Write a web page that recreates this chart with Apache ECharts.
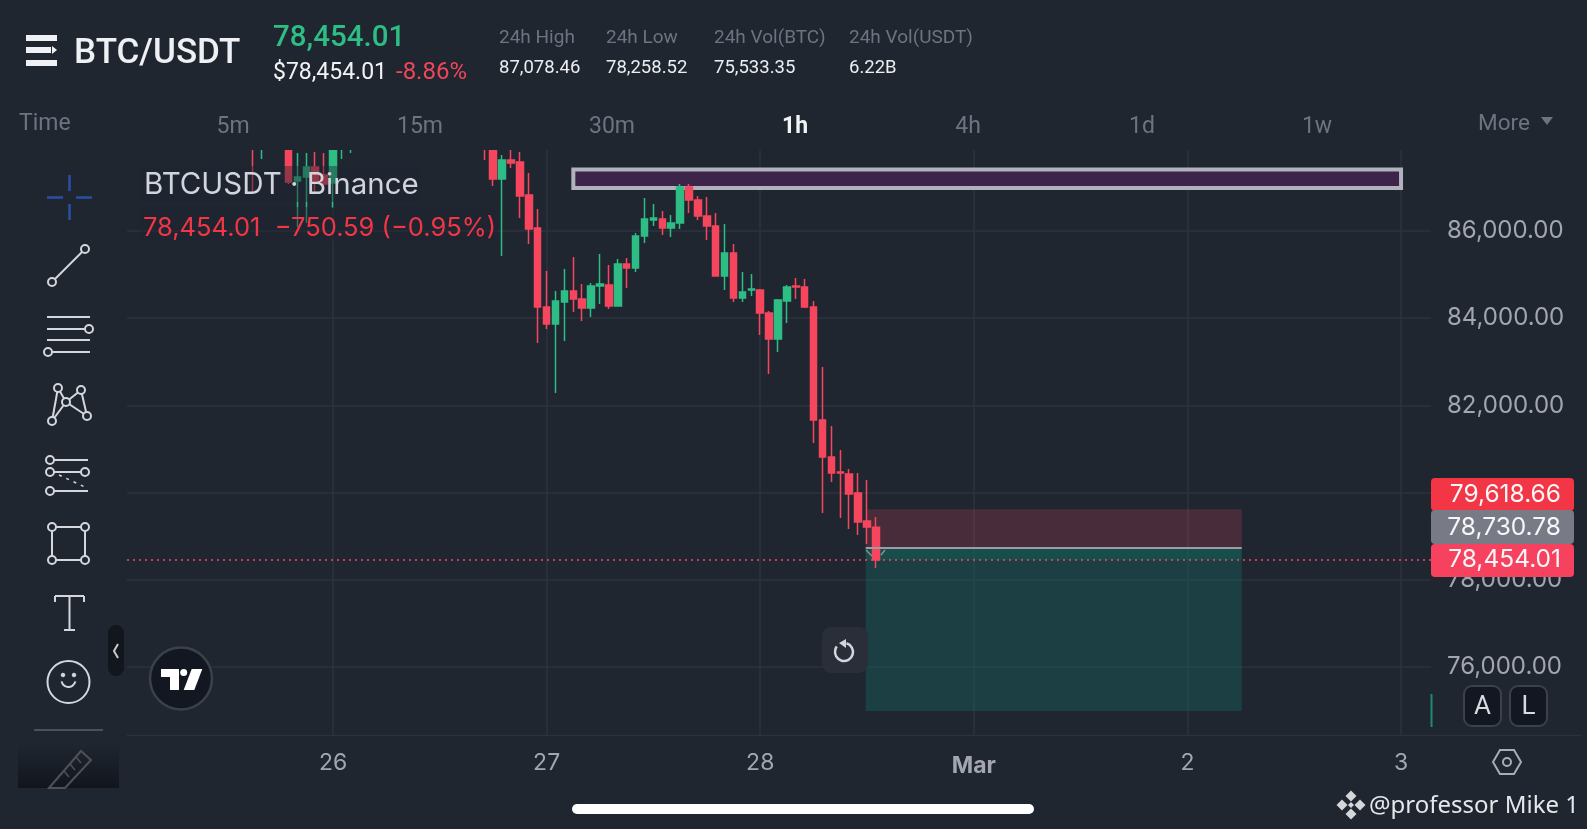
<!DOCTYPE html>
<html>
<head>
<meta charset="utf-8">
<title>BTC/USDT</title>
<script src="https://cdn.jsdelivr.net/npm/echarts@6/dist/echarts.min.js"></script>
<style>
html, body { margin: 0; padding: 0; background: #1f2630; overflow: hidden; }
#chart { width: 1587px; height: 829px; }
</style>
</head>
<body>
<div id="chart"></div>
<script>
// 1h candles (some bodies sit above the visible top)
var candleTimes = [
    '2025-02-25 15:00','2025-02-25 16:00','2025-02-25 19:00','2025-02-25 20:00','2025-02-25 21:00','2025-02-25 22:00','2025-02-25 23:00',
    '2025-02-26 00:00','2025-02-26 01:00','2025-02-26 02:00','2025-02-26 17:00','2025-02-26 18:00','2025-02-26 19:00','2025-02-26 20:00',
    '2025-02-26 21:00','2025-02-26 22:00','2025-02-26 23:00',
    '2025-02-27 00:00','2025-02-27 01:00','2025-02-27 02:00','2025-02-27 03:00','2025-02-27 04:00','2025-02-27 05:00','2025-02-27 06:00','2025-02-27 07:00',
    '2025-02-27 08:00','2025-02-27 09:00','2025-02-27 10:00','2025-02-27 11:00','2025-02-27 12:00','2025-02-27 13:00','2025-02-27 14:00','2025-02-27 15:00',
    '2025-02-27 16:00','2025-02-27 17:00','2025-02-27 18:00','2025-02-27 19:00','2025-02-27 20:00','2025-02-27 21:00','2025-02-27 22:00','2025-02-27 23:00',
    '2025-02-28 00:00','2025-02-28 01:00','2025-02-28 02:00','2025-02-28 03:00','2025-02-28 04:00','2025-02-28 05:00','2025-02-28 06:00','2025-02-28 07:00',
    '2025-02-28 08:00','2025-02-28 09:00','2025-02-28 10:00','2025-02-28 11:00','2025-02-28 12:00','2025-02-28 13:00'
];
var opens = [
    88300,88000,88000,87147,87239,87468,87284,
    87101,88000,88000,88200,88000,87193,87628,
    87583,86826,86069,
    84257,83867,84372,84624,84440,84234,84739,84761,
    84280,85243,85151,85885,86252,86275,86069,86183,
    87009,86711,86344,86115,84968,85495,84463,84647,
    84647,84119,83523,84394,84739,84716,84257,81665,
    80817,80472,80426,79991,79349,79205
];
var closes = [
    88000,88200,87124,87239,87468,87101,87078,
    88000,88150,88200,88000,87193,87628,87560,
    86803,86046,84257,
    83867,84394,84624,84440,84234,84739,84784,84280,
    85243,85151,85885,86275,86298,86069,86183,87009,
    86711,86344,86115,84968,85495,84463,84601,84670,
    84119,83523,84417,84716,84716,84257,81665,80817,
    80449,80449,79968,79326,79211,78454.01
];
var lows = [
    86894,87651,87078,86092,86183,86900,87000,
    86528,87651,87789,87628,87032,85427,87445,
    86298,85702,83431,
    83752,82284,83477,84142,83936,84028,84326,84211,
    84270,84693,85060,85725,86115,85908,85862,86046,
    86413,86252,85794,84968,84647,84372,84372,84509,
    83615,82720,83225,83890,84440,84234,81138,79532,
    80243,79417,79165,79027,78821,78271
];
var highs = [
    88400,88300,88100,87789,87789,87812,87789,
    88100,88250,88300,88300,88100,87743,87858,
    87812,87330,86505,
    85083,84624,85128,85404,84784,84807,85472,85220,
    85358,85381,85954,86757,86619,86459,86367,87078,
    87078,86803,86780,86413,86161,85702,85060,85014,
    84670,84165,84440,84761,84922,84899,84394,82881,
    81527,80977,80541,80449,80289,79440
];

var priceTicks = [76000, 78000, 80000, 82000, 84000, 86000];
var dayTicks = ['2025-02-26 00:00','2025-02-27 00:00','2025-02-28 00:00','2025-03-01 00:00','2025-03-02 00:00','2025-03-03 00:00'];
var dayLabels = ['26','27','28','Mar','2','3'];

var lastPrice = 78454.01;
var stopPrice = 79618.66;
var entryPrice = 78730.78;
var targetPrice = 74990;
var zoneTop = 87411;
var zoneBottom = 86986;

var bg = '#1f2630';
var upColor = '#2ebd85';
var downColor = '#f6465d';
var gridColor = '#2c333e';
var iconColor = '#d4d6dc';
var font = 'Roboto';

function ms(s) {
    return +echarts.time.parse(s);
}
var dayMs = dayTicks.map(ms);

function txt(x, y, text, size, color, weight, align, family) {
    return { type: 'text', z: 100, silent: true, style: {
        x: x, y: y, text: text, fill: color, align: align || 'left', verticalAlign: 'middle',
        font: (weight || 'normal') + ' ' + size + 'px ' + (family || font)
    }};
}
function ln(x1, y1, x2, y2, color, w, dash) {
    return { type: 'line', z: 100, silent: true, shape: { x1: x1, y1: y1, x2: x2, y2: y2 },
        style: { stroke: color || iconColor, lineWidth: w || 2, lineDash: dash } };
}
function dot(x, y, r, stroke, fill, w) {
    return { type: 'circle', z: 101, silent: true, shape: { cx: x, cy: y, r: r },
        style: { stroke: stroke === undefined ? iconColor : stroke, fill: fill === undefined ? bg : fill, lineWidth: w || 2 } };
}
function box(x, y, w, h, fill, r, stroke, sw) {
    return { type: 'rect', z: 99, silent: true, shape: { x: x, y: y, width: w, height: h, r: r || 0 },
        style: { fill: fill, stroke: stroke, lineWidth: sw || 0 } };
}
function poly(points, fill, stroke, w) {
    return { type: 'polygon', z: 100, silent: true, shape: { points: points },
        style: { fill: fill, stroke: stroke, lineWidth: w || 0 } };
}

var ui = [];
// K线不会被网格裁剪，上面盖一条
var cover = box(127, 100, 1304, 50, bg);
cover.z = 98;
ui.push(cover);
// 图例下面的遮罩
ui.push(box(140, 166, 282, 36, 'rgba(31,38,48,0.45)'));
ui.push(box(140, 207, 358, 34, 'rgba(31,38,48,0.45)'));

// header
ui.push(box(26, 35, 31, 6, '#f0f1f4'), box(26, 47, 25, 6, '#f0f1f4'), box(26, 60, 31, 6, '#f0f1f4'));
ui.push(poly([[52, 46], [57, 50], [52, 54]], '#f0f1f4'));
ui.push(txt(74, 54, 'BTC/USDT', 35, '#eef0f3', '500'));
ui.push(txt(273, 39, '78,454.01', 29.5, upColor, '500'));
ui.push(txt(273, 73, '$78,454.01', 23, '#f2f3f5'));
ui.push(txt(396, 73, '-8.86%', 24, '#f0465a'));
var statX = [499, 606, 714, 849];
var statNames = ['24h High', '24h Low', '24h Vol(BTC)', '24h Vol(USDT)'];
var statValues = ['87,078.46', '78,258.52', '75,533.35', '6.22B'];
statX.forEach(function (x, i) {
    ui.push(txt(x, 38, statNames[i], 19, '#6d7380'));
    ui.push(txt(x, 68, statValues[i], 18.5, '#eceef1'));
});

// 周期
ui.push(txt(19, 124, 'Time', 23, '#6d7380'));
var tfX = [233, 420, 612, 795, 968, 1142, 1317];
var tfNames = ['5m', '15m', '30m', '1h', '4h', '1d', '1w'];
tfNames.forEach(function (t, i) {
    var on = t === '1h';
    ui.push(txt(tfX[i], 127, t, 23, on ? '#f2f3f5' : '#6d7380', on ? 'bold' : 'normal', 'center'));
});
ui.push(txt(1478, 124, 'More', 22.5, '#6d7380'));
ui.push(poly([[1541, 117], [1553, 117], [1547, 125]], '#6d7380'));

// legend on the chart
ui.push(txt(144, 185, 'BTCUSDT · Binance', 29.5, '#d1d4dc', 'normal', 'left', 'Inter'));
ui.push(txt(143, 228, '78,454.01  \u2212750.59 (\u22120.95%)', 25.5, '#f23645', 'normal', 'left', 'Inter'));

// 左侧工具栏
ui.push(ln(69.5, 175, 69.5, 191, '#2a4fa8', 2.5), ln(69.5, 204, 69.5, 220, '#2a4fa8', 2.5));
ui.push(ln(47, 197.5, 63, 197.5, '#2a4fa8', 2.5), ln(76, 197.5, 92, 197.5, '#2a4fa8', 2.5));
ui.push(ln(52, 282, 85, 249), dot(52, 282, 4), dot(85, 249, 4));
ui.push(ln(47, 317, 90, 317), ln(47, 329, 88, 329), ln(47, 340, 90, 340), ln(50, 352, 90, 352), dot(89, 329, 4), dot(48, 352, 4));
ui.push(ln(58, 388, 52, 421), ln(52, 421, 66, 402), ln(58, 388, 66, 402), ln(66, 402, 81, 390), ln(66, 402, 87, 416), ln(81, 390, 87, 416));
ui.push(dot(58, 388, 4), dot(81, 390, 4), dot(66, 402, 4), dot(52, 421, 4), dot(87, 416, 4));
ui.push(ln(52, 460, 88, 460), ln(52, 472, 85, 472), ln(52, 491, 88, 491), ln(59, 475, 85, 487, iconColor, 1.5, [3, 5]));
ui.push(dot(50, 460, 4), dot(50, 472, 4), dot(85, 472, 4), dot(50, 491, 4));
ui.push(box(52, 527, 33, 33, 'none', 0, iconColor, 2), dot(52, 527, 4), dot(85, 527, 4), dot(52, 560, 4), dot(85, 560, 4));
ui.push(ln(55, 596, 84, 596), ln(55, 596, 55, 602), ln(84, 596, 84, 602), ln(69.5, 596, 69.5, 630), ln(64, 630, 75, 630));
ui.push(dot(68.5, 682, 21, iconColor, 'none', 2), dot(63, 675, 1.8, iconColor, iconColor, 1), dot(74, 675, 1.8, iconColor, iconColor, 1));
ui.push({ type: 'arc', z: 100, silent: true, shape: { cx: 68.5, cy: 680, r: 7, startAngle: 0.2, endAngle: Math.PI - 0.2 }, style: { stroke: iconColor, fill: 'none', lineWidth: 2 } });
ui.push(ln(34, 730, 103, 730, '#4b505b', 2));
ui.push({ type: 'rect', z: 99, silent: true, shape: { x: 18, y: 744, width: 101, height: 44 }, style: { fill: new echarts.graphic.LinearGradient(0, 0, 0, 1, [{ offset: 0, color: '#1f2630' }, { offset: 1, color: '#12151c' }]) } });
ui.push(poly([[49, 788], [81, 751], [91, 760], [65, 788]], 'none', '#4d515a', 2));
ui.push(ln(76, 757, 81, 763, '#4d515a', 1.5), ln(70, 764, 75, 770, '#4d515a', 1.5), ln(64, 771, 69, 777, '#4d515a', 1.5));
ui.push(box(108, 625, 16, 51, '#12161d', 8));
ui.push({ type: 'polyline', z: 100, silent: true, shape: { points: [[118, 644], [114, 651], [118, 658]] }, style: { stroke: '#c8cad0', fill: 'none', lineWidth: 2 } });

// TradingView badge
var badge = dot(181, 678.5, 31, '#3b404b', '#131722', 2.5);
badge.z = 99;
ui.push(badge);
ui.push(poly([[161, 669], [179, 669], [179, 690], [170, 690], [170, 677], [161, 677]], '#ffffff'));
ui.push(dot(183.7, 672.5, 3.5, 'none', '#ffffff', 0));
ui.push(poly([[191.7, 669], [202.3, 669], [194.3, 690], [183.7, 690]], '#ffffff'));

// reset button
ui.push(box(822, 627, 46, 46, '#2a2e39', 9));
ui.push({ type: 'arc', z: 100, silent: true, shape: { cx: 844, cy: 652, r: 9, startAngle: -1.3, endAngle: -2.5, clockwise: true }, style: { stroke: iconColor, fill: 'none', lineWidth: 2.5 } });
ui.push(poly([[846, 639], [846, 648], [839, 643]], iconColor));

// 入场标记
ui.push(ln(866, 550, 872, 556, '#8a8d96', 1.5), ln(885, 550, 881, 555, '#8a8d96', 1.5));

// price tags
ui.push(box(1431, 478, 143, 33, '#f23645', 4));
ui.push(box(1431, 510, 143, 34, '#787b86', 4));
ui.push(box(1431, 544, 143, 33, '#f7425f', 4));
ui.push(txt(1561, 495, '79,618.66', 24.5, '#f7f7f9', 'normal', 'right', 'Inter'));
ui.push(txt(1561, 527.5, '78,730.78', 24.5, '#f7f7f9', 'normal', 'right', 'Inter'));
ui.push(txt(1561, 560, '78,454.01', 24.5, '#f7f7f9', 'normal', 'right', 'Inter'));

// A / L
ui.push(ln(1431.5, 694, 1431.5, 727, '#1f8a70', 2));
ui.push(box(1464, 686, 37, 40, '#131722', 8, '#3b404b', 2), box(1510, 686, 37, 40, '#131722', 8, '#3b404b', 2));
ui.push(txt(1482.5, 707, 'A', 26, '#d8dae0', 'normal', 'center'), txt(1528.5, 707, 'L', 26, '#d8dae0', 'normal', 'center'));

// 底部
ui.push(ln(127, 735.5, 1581, 735.5, gridColor, 1.5));
ui.push(poly([[1493, 762], [1500, 750], [1514, 750], [1521, 762], [1514, 774], [1500, 774]], 'none', '#a9acb6', 2));
ui.push(dot(1507, 762, 4, '#a9acb6', 'none', 2));
ui.push(box(572, 804, 462, 10, '#ffffff', 5));
[[1351, 796], [1342, 805], [1360, 805], [1351, 814]].forEach(function (p) {
    ui.push(poly([[p[0], p[1] - 5.5], [p[0] + 5.5, p[1]], [p[0], p[1] + 5.5], [p[0] - 5.5, p[1]]], '#d5d6da'));
});
ui.push(poly([[1351, 802], [1354, 805], [1351, 808], [1348, 805]], '#d5d6da'));
ui.push(txt(1369, 806, '@professor Mike 1', 24, '#e6e7ea', 'normal', 'left', 'Noto Sans'));

var boxLeft = ms('2025-02-28 11:51');
var boxRight = ms('2025-03-02 06:06');

var chart = echarts.init(document.getElementById('chart'));
var option = {
    animation: false,
    backgroundColor: bg,
    grid: { left: 127, top: 150, width: 1304, height: 585 },
    xAxis: {
        type: 'value',
        min: ms('2025-02-25 00:51'),
        max: ms('2025-03-03 03:22'),
        axisLine: { show: false },
        axisTick: { show: false, customValues: dayMs },
        splitLine: { show: true, lineStyle: { color: gridColor, width: 1.5 } },
        axisLabel: {
            customValues: dayMs,
            margin: 17,
            hideOverlap: false,
            color: '#a3a6b0',
            fontFamily: 'Inter',
            fontSize: 23,
            formatter: function (v) {
                var k = dayMs.indexOf(+v);
                return k === 3 ? '{b|' + dayLabels[k] + '}' : dayLabels[k];
            },
            rich: { b: { fontWeight: 'bold', fontSize: 23, fontFamily: 'Inter', color: '#a3a6b0', padding: [3, 0, 0, 0] } }
        }
    },
    yAxis: {
        type: 'value',
        position: 'right',
        scale: true,
        min: 74440,
        max: 87858,
        axisLine: { show: false },
        axisTick: { show: false, customValues: priceTicks },
        splitLine: { show: true, lineStyle: { color: gridColor, width: 1.5 } },
        axisLabel: {
            customValues: priceTicks,
            margin: 16,
            color: '#a3a6b0',
            fontFamily: 'Inter',
            fontSize: 24,
            formatter: function (v) {
                return v.toLocaleString('en-US', { minimumFractionDigits: 2 });
            }
        }
    },
    series: [{
        type: 'candlestick',
        barWidth: 7,
        encode: { x: 0, y: [1, 2, 3, 4] },
        itemStyle: { color: upColor, color0: downColor, borderColor: upColor, borderColor0: downColor, borderWidth: 1.5 },
        data: candleTimes.map(function (t, i) {
            return [ms(t), opens[i], closes[i], lows[i], highs[i]];
        }),
        markArea: {
            silent: true,
            data: [
                [{ coord: [ms('2025-02-27 03:00'), zoneTop], itemStyle: { color: '#3c2549', borderColor: '#b2b2bd', borderWidth: 4 } }, { coord: [ms('2025-03-03 00:00'), zoneBottom] }],
                [{ coord: [boxLeft, stopPrice], itemStyle: { color: 'rgba(246,70,93,0.2)' } }, { coord: [boxRight, entryPrice] }],
                [{ coord: [boxLeft, entryPrice], itemStyle: { color: 'rgba(20,115,105,0.33)' } }, { coord: [boxRight, targetPrice] }],
                [{ coord: [boxLeft, entryPrice], itemStyle: { color: 'rgba(0,170,130,0.14)' } }, { coord: [boxRight, lastPrice] }]
            ]
        },
        markLine: {
            silent: true,
            symbol: 'none',
            label: { show: false },
            data: [
                { yAxis: lastPrice, lineStyle: { color: '#f6465d', type: [2, 4], width: 1.5 } },
                [{ coord: [boxLeft, entryPrice], lineStyle: { color: '#9a9da6', type: 'solid', width: 2 } }, { coord: [boxRight, entryPrice] }]
            ]
        }
    }],
    graphic: ui
};
chart.setOption(option);
</script>
</body>
</html>
